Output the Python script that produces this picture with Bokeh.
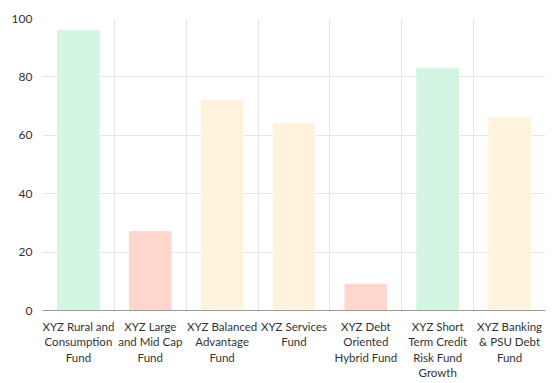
from bokeh.plotting import figure
from bokeh.models import ColumnDataSource, Range1d, FixedTicker
from bokeh.embed import file_html
from bokeh.resources import INLINE

funds = ["XYZ Rural and\nConsumption\nFund", "XYZ Large\nand Mid Cap\nFund",
         "XYZ Balanced\nAdvantage\nFund", "XYZ Services\nFund",
         "XYZ Debt\nOriented\nHybrid Fund", "XYZ Short\nTerm Credit\nRisk Fund\nGrowth",
         "XYZ Banking\n& PSU Debt\nFund"]
values = [96, 27, 72, 64, 9, 83, 66]
colors = ["#D3F5E1", "#FFD6CE", "#FFF3DE", "#FFF3DE", "#FFD6CE", "#D3F5E1", "#FFF3DE"]
y_ticks = [0, 20, 40, 60, 80, 100]

src = ColumnDataSource(dict(fund=funds, value=values, color=colors))

p = figure(x_range=funds, y_range=Range1d(0, 100), width=557, height=383,
           output_backend="svg", toolbar_location=None,
           min_border_left=42, min_border_right=12, min_border_top=18, min_border_bottom=73)
p.vbar(x="fund", top="value", width=0.58, color="color", source=src)

p.outline_line_color = None
p.background_fill_color = "white"
p.border_fill_color = "white"

FONT = "Lato"
p.yaxis.ticker = FixedTicker(ticks=y_ticks)
p.yaxis.axis_line_color = None
p.yaxis.major_tick_line_color = None
p.yaxis.minor_tick_line_color = None
p.yaxis.major_tick_out = 0
p.yaxis.major_label_standoff = 10
p.yaxis.major_label_text_font = FONT
p.yaxis.major_label_text_font_size = "12px"
p.yaxis.major_label_text_color = "#333333"

p.xaxis.axis_line_color = "#9a9a9a"
p.xaxis.axis_line_width = 1
p.xaxis.major_tick_line_color = None
p.xaxis.major_tick_out = 0
p.xaxis.major_label_standoff = 9
p.xaxis.major_label_text_font = FONT
p.xaxis.major_label_text_font_size = "11.5px"
p.xaxis.major_label_text_color = "#333333"
p.xaxis.major_label_text_line_height = 1.2

p.ygrid.ticker = FixedTicker(ticks=y_ticks)
p.ygrid.grid_line_color = "#e6e6e6"
p.xgrid.ticker = FixedTicker(ticks=list(range(1, len(funds))))
p.xgrid.grid_line_color = "#e6e6e6"

open("out.html", "w").write(file_html(p, INLINE))
